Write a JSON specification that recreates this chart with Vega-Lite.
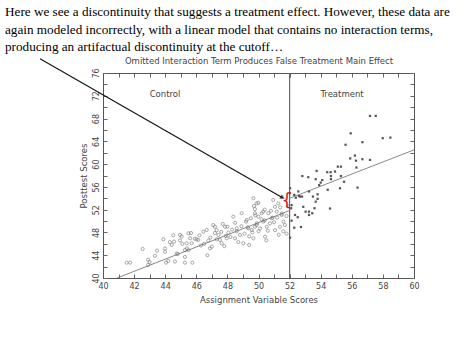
{
  "$schema": "https://vega.github.io/schema/vega-lite/v6.json",
  "autosize": {"type": "none"},
  "width": 311,
  "height": 205,
  "padding": {"left": 103, "top": 73, "right": 60, "bottom": 77},
  "background": "white",
  "title": {
    "text": [
      "Here we see a discontinuity that suggests a treatment effect. However, these data are",
      "again modeled incorrectly, with a linear model that contains no interaction terms,",
      "producing an artifactual discontinuity at the cutoff…"
    ],
    "anchor": "start",
    "frame": "group",
    "dx": -98,
    "font": "Liberation Serif",
    "fontSize": 13.2,
    "fontWeight": "normal",
    "color": "black",
    "lineHeight": 17.5,
    "offset": 2
  },
  "config": {
    "view": {"stroke": null},
    "axis": {
      "grid": false,
      "domainColor": "#555",
      "tickColor": "#666",
      "labelColor": "#444",
      "titleColor": "#444",
      "labelFont": "DejaVu Sans",
      "titleFont": "DejaVu Sans",
      "labelFontSize": 8,
      "titleFontSize": 8.5,
      "titleFontWeight": "normal"
    }
  },
  "datasets": {
    "cut": [{"x": 52, "y": 40, "y2": 76}],
    "pts": [
      {"x": 41.52, "y": 42.7, "g": "Control"}, {"x": 41.74, "y": 42.7, "g": "Control"}, {"x": 42.55, "y": 45.1, "g": "Control"}, {"x": 42.9, "y": 43.2, "g": "Control"}, {"x": 43.0, "y": 42.8, "g": "Control"}, {"x": 42.9, "y": 42.3, "g": "Control"}, {"x": 43.34, "y": 43.9, "g": "Control"}, {"x": 43.47, "y": 44.8, "g": "Control"}, {"x": 43.88, "y": 46.8, "g": "Control"}, {"x": 43.99, "y": 45.2, "g": "Control"}, {"x": 43.99, "y": 44.6, "g": "Control"}, {"x": 44.05, "y": 42.7, "g": "Control"}, {"x": 44.2, "y": 43.0, "g": "Control"}, {"x": 44.3, "y": 46.3, "g": "Control"}, {"x": 44.42, "y": 45.8, "g": "Control"}, {"x": 44.52, "y": 47.5, "g": "Control"}, {"x": 44.57, "y": 46.4, "g": "Control"}, {"x": 44.63, "y": 42.9, "g": "Control"}, {"x": 44.74, "y": 44.3, "g": "Control"}, {"x": 44.8, "y": 44.2, "g": "Control"}, {"x": 44.95, "y": 47.56, "g": "Control"}, {"x": 44.95, "y": 46.6, "g": "Control"}, {"x": 45.06, "y": 47.3, "g": "Control"}, {"x": 45.1, "y": 46.0, "g": "Control"}, {"x": 45.27, "y": 44.9, "g": "Control"}, {"x": 45.27, "y": 43.7, "g": "Control"}, {"x": 45.27, "y": 42.7, "g": "Control"}, {"x": 45.38, "y": 46.1, "g": "Control"}, {"x": 45.4, "y": 45.2, "g": "Control"}, {"x": 45.5, "y": 44.9, "g": "Control"}, {"x": 45.49, "y": 47.85, "g": "Control"}, {"x": 45.6, "y": 46.97, "g": "Control"}, {"x": 45.66, "y": 47.9, "g": "Control"}, {"x": 45.7, "y": 46.1, "g": "Control"}, {"x": 45.75, "y": 42.7, "g": "Control"}, {"x": 45.9, "y": 46.9, "g": "Control"}, {"x": 46.02, "y": 46.8, "g": "Control"}, {"x": 46.13, "y": 46.68, "g": "Control"}, {"x": 46.2, "y": 47.5, "g": "Control"}, {"x": 46.3, "y": 45.7, "g": "Control"}, {"x": 46.45, "y": 48.14, "g": "Control"}, {"x": 46.5, "y": 46.0, "g": "Control"}, {"x": 46.67, "y": 48.43, "g": "Control"}, {"x": 46.71, "y": 44.0, "g": "Control"}, {"x": 46.77, "y": 46.56, "g": "Control"}, {"x": 46.88, "y": 45.2, "g": "Control"}, {"x": 46.9, "y": 47.1, "g": "Control"}, {"x": 47.0, "y": 45.5, "g": "Control"}, {"x": 47.09, "y": 49.3, "g": "Control"}, {"x": 47.2, "y": 49.0, "g": "Control"}, {"x": 47.2, "y": 47.9, "g": "Control"}, {"x": 47.3, "y": 46.8, "g": "Control"}, {"x": 47.31, "y": 48.4, "g": "Control"}, {"x": 47.42, "y": 47.56, "g": "Control"}, {"x": 47.52, "y": 46.68, "g": "Control"}, {"x": 47.6, "y": 48.1, "g": "Control"}, {"x": 47.63, "y": 46.1, "g": "Control"}, {"x": 47.7, "y": 49.5, "g": "Control"}, {"x": 47.8, "y": 45.6, "g": "Control"}, {"x": 47.85, "y": 49.0, "g": "Control"}, {"x": 47.9, "y": 47.4, "g": "Control"}, {"x": 47.96, "y": 46.97, "g": "Control"}, {"x": 48.0, "y": 49.0, "g": "Control"}, {"x": 48.06, "y": 47.96, "g": "Control"}, {"x": 48.2, "y": 47.2, "g": "Control"}, {"x": 48.3, "y": 48.5, "g": "Control"}, {"x": 48.38, "y": 50.77, "g": "Control"}, {"x": 48.49, "y": 46.97, "g": "Control"}, {"x": 48.5, "y": 49.7, "g": "Control"}, {"x": 48.6, "y": 48.72, "g": "Control"}, {"x": 48.6, "y": 48.2, "g": "Control"}, {"x": 48.7, "y": 46.3, "g": "Control"}, {"x": 48.81, "y": 47.56, "g": "Control"}, {"x": 48.9, "y": 49.1, "g": "Control"}, {"x": 48.92, "y": 51.37, "g": "Control"}, {"x": 49.02, "y": 46.1, "g": "Control"}, {"x": 49.1, "y": 47.8, "g": "Control"}, {"x": 49.2, "y": 49.9, "g": "Control"}, {"x": 49.24, "y": 50.2, "g": "Control"}, {"x": 49.3, "y": 48.9, "g": "Control"}, {"x": 49.34, "y": 48.72, "g": "Control"}, {"x": 49.4, "y": 47.3, "g": "Control"}, {"x": 49.4, "y": 45.8, "g": "Control"}, {"x": 49.5, "y": 50.5, "g": "Control"}, {"x": 49.56, "y": 48.43, "g": "Control"}, {"x": 49.6, "y": 48.0, "g": "Control"}, {"x": 49.67, "y": 54.0, "g": "Control"}, {"x": 49.67, "y": 46.97, "g": "Control"}, {"x": 49.71, "y": 52.65, "g": "Control"}, {"x": 49.77, "y": 51.37, "g": "Control"}, {"x": 49.77, "y": 52.1, "g": "Control"}, {"x": 49.77, "y": 49.0, "g": "Control"}, {"x": 49.8, "y": 51.0, "g": "Control"}, {"x": 49.88, "y": 53.1, "g": "Control"}, {"x": 49.88, "y": 49.3, "g": "Control"}, {"x": 49.9, "y": 49.6, "g": "Control"}, {"x": 49.99, "y": 53.2, "g": "Control"}, {"x": 49.99, "y": 50.77, "g": "Control"}, {"x": 50.0, "y": 48.2, "g": "Control"}, {"x": 50.1, "y": 48.7, "g": "Control"}, {"x": 50.2, "y": 51.37, "g": "Control"}, {"x": 50.2, "y": 50.3, "g": "Control"}, {"x": 50.3, "y": 51.65, "g": "Control"}, {"x": 50.31, "y": 49.9, "g": "Control"}, {"x": 50.4, "y": 50.1, "g": "Control"}, {"x": 50.4, "y": 52.0, "g": "Control"}, {"x": 50.42, "y": 47.26, "g": "Control"}, {"x": 50.5, "y": 46.6, "g": "Control"}, {"x": 50.53, "y": 49.0, "g": "Control"}, {"x": 50.6, "y": 48.3, "g": "Control"}, {"x": 50.63, "y": 51.37, "g": "Control"}, {"x": 50.74, "y": 49.6, "g": "Control"}, {"x": 50.8, "y": 51.8, "g": "Control"}, {"x": 50.85, "y": 50.5, "g": "Control"}, {"x": 50.9, "y": 50.6, "g": "Control"}, {"x": 50.95, "y": 53.7, "g": "Control"}, {"x": 51.0, "y": 49.8, "g": "Control"}, {"x": 51.06, "y": 52.5, "g": "Control"}, {"x": 51.06, "y": 48.4, "g": "Control"}, {"x": 51.17, "y": 51.65, "g": "Control"}, {"x": 51.2, "y": 50.6, "g": "Control"}, {"x": 51.27, "y": 53.1, "g": "Control"}, {"x": 51.3, "y": 47.6, "g": "Control"}, {"x": 51.38, "y": 49.0, "g": "Control"}, {"x": 51.4, "y": 52.4, "g": "Control"}, {"x": 51.49, "y": 51.07, "g": "Control"}, {"x": 51.5, "y": 51.3, "g": "Control"}, {"x": 51.6, "y": 49.9, "g": "Control"}, {"x": 51.6, "y": 48.2, "g": "Control"}, {"x": 51.7, "y": 49.3, "g": "Control"}, {"x": 51.8, "y": 50.9, "g": "Control"}, {"x": 51.8, "y": 47.8, "g": "Control"}, {"x": 51.9, "y": 52.6, "g": "Control"},
      {"x": 57.17, "y": 68.47, "g": "Treatment"}, {"x": 57.54, "y": 68.47, "g": "Treatment"}, {"x": 55.93, "y": 65.4, "g": "Treatment"}, {"x": 57.99, "y": 64.55, "g": "Treatment"}, {"x": 58.48, "y": 64.66, "g": "Treatment"}, {"x": 56.68, "y": 63.85, "g": "Treatment"}, {"x": 55.6, "y": 63.4, "g": "Treatment"}, {"x": 56.2, "y": 61.5, "g": "Treatment"}, {"x": 55.9, "y": 61.0, "g": "Treatment"}, {"x": 56.27, "y": 60.6, "g": "Treatment"}, {"x": 56.68, "y": 60.86, "g": "Treatment"}, {"x": 57.17, "y": 60.74, "g": "Treatment"}, {"x": 56.3, "y": 59.4, "g": "Treatment"}, {"x": 55.1, "y": 59.55, "g": "Treatment"}, {"x": 55.3, "y": 59.55, "g": "Treatment"}, {"x": 54.42, "y": 58.58, "g": "Treatment"}, {"x": 54.64, "y": 58.58, "g": "Treatment"}, {"x": 54.92, "y": 58.7, "g": "Treatment"}, {"x": 53.74, "y": 58.8, "g": "Treatment"}, {"x": 52.82, "y": 57.9, "g": "Treatment"}, {"x": 53.2, "y": 57.7, "g": "Treatment"}, {"x": 53.68, "y": 57.35, "g": "Treatment"}, {"x": 54.66, "y": 57.9, "g": "Treatment"}, {"x": 54.66, "y": 57.35, "g": "Treatment"}, {"x": 55.3, "y": 57.9, "g": "Treatment"}, {"x": 55.5, "y": 56.9, "g": "Treatment"}, {"x": 54.1, "y": 57.2, "g": "Treatment"}, {"x": 54.0, "y": 56.75, "g": "Treatment"}, {"x": 53.9, "y": 56.3, "g": "Treatment"}, {"x": 54.45, "y": 55.5, "g": "Treatment"}, {"x": 55.24, "y": 55.76, "g": "Treatment"}, {"x": 56.37, "y": 55.87, "g": "Treatment"}, {"x": 52.03, "y": 55.76, "g": "Treatment"}, {"x": 52.03, "y": 54.9, "g": "Treatment"}, {"x": 52.56, "y": 55.2, "g": "Treatment"}, {"x": 52.3, "y": 54.6, "g": "Treatment"}, {"x": 52.67, "y": 54.3, "g": "Treatment"}, {"x": 52.8, "y": 54.3, "g": "Treatment"}, {"x": 53.25, "y": 55.2, "g": "Treatment"}, {"x": 53.5, "y": 54.3, "g": "Treatment"}, {"x": 53.8, "y": 54.7, "g": "Treatment"}, {"x": 53.8, "y": 53.9, "g": "Treatment"}, {"x": 53.68, "y": 53.4, "g": "Treatment"}, {"x": 52.13, "y": 52.8, "g": "Treatment"}, {"x": 52.1, "y": 52.25, "g": "Treatment"}, {"x": 52.88, "y": 52.5, "g": "Treatment"}, {"x": 53.6, "y": 52.25, "g": "Treatment"}, {"x": 54.6, "y": 52.2, "g": "Treatment"}, {"x": 53.03, "y": 51.65, "g": "Treatment"}, {"x": 53.25, "y": 51.65, "g": "Treatment"}, {"x": 53.25, "y": 51.07, "g": "Treatment"}, {"x": 53.46, "y": 51.37, "g": "Treatment"}, {"x": 52.35, "y": 51.07, "g": "Treatment"}, {"x": 52.52, "y": 50.67, "g": "Treatment"}, {"x": 52.13, "y": 50.07, "g": "Treatment"}, {"x": 52.3, "y": 48.84, "g": "Treatment"}, {"x": 52.73, "y": 48.96, "g": "Treatment"}, {"x": 52.03, "y": 47.08, "g": "Treatment"}, {"x": 52.4, "y": 54.1, "g": "Treatment"}, {"x": 52.6, "y": 54.4, "g": "Treatment"}
    ],
    "fit": [
      {"x": 40.9, "y": 40, "g": "Control"}, {"x": 52, "y": 51.85, "g": "Control"},
      {"x": 52, "y": 54.0, "g": "Treatment"}, {"x": 60, "y": 62.5, "g": "Treatment"}
    ],
    "arrow": [
      {"x": 35.95, "y": 78.5, "pos": "start"}, {"x": 51.55, "y": 54.1, "pos": "end"}
    ],
    "labels": [
      {"x": 43.99, "y": 72.3, "t": "Control"}, {"x": 55.37, "y": 72.3, "t": "Treatment"}
    ],
    "brace": [{"x": 51.83, "y": 53.45, "t": "{"}]
  },
  "layer": [
    {
      "data": {"name": "cut"},
      "mark": {"type": "rule", "color": "#666", "strokeWidth": 1},
      "encoding": {
        "x": {
          "field": "x", "type": "quantitative",
          "scale": {"domain": [40, 60], "nice": false, "zero": false},
          "axis": {
            "orient": "bottom",
            "values": [40, 41, 42, 43, 44, 45, 46, 47, 48, 49, 50, 51, 52, 53, 54, 55, 56, 57, 58, 59, 60],
            "labelExpr": "datum.value % 2 == 0 ? datum.label : ''",
            "tickSize": -4,
            "labelPadding": 8,
            "labelFlush": false,
            "title": "Assignment Variable Scores",
            "titlePadding": 5
          }
        },
        "y": {
          "field": "y", "type": "quantitative",
          "scale": {"domain": [40, 76], "nice": false, "zero": false},
          "axis": {
            "orient": "left",
            "values": [40, 42, 44, 46, 48, 50, 52, 54, 56, 58, 60, 62, 64, 66, 68, 70, 72, 74, 76],
            "labelExpr": "datum.value % 4 == 0 ? datum.label : ''",
            "labelAngle": -90,
            "labelAlign": "center",
            "labelBaseline": "bottom",
            "tickSize": -4,
            "labelPadding": 7,
            "labelFlush": false,
            "title": "Posttest Scores",
            "titlePadding": 4
          }
        },
        "y2": {"field": "y2"}
      }
    },
    {
      "data": {"name": "cut"},
      "mark": {"type": "rule", "color": "#666", "strokeWidth": 1},
      "encoding": {
        "x": {
          "field": "x", "type": "quantitative",
          "axis": {
            "orient": "top",
            "values": [40, 41, 42, 43, 44, 45, 46, 47, 48, 49, 50, 51, 52, 53, 54, 55, 56, 57, 58, 59, 60],
            "labels": false,
            "tickSize": -4,
            "title": "Omitted Interaction Term Produces False Treatment Main Effect",
            "titlePadding": 7
          }
        },
        "y": {
          "field": "y", "type": "quantitative",
          "axis": {
            "orient": "right",
            "values": [40, 42, 44, 46, 48, 50, 52, 54, 56, 58, 60, 62, 64, 66, 68, 70, 72, 74, 76],
            "labels": false,
            "tickSize": -4,
            "title": null
          }
        },
        "y2": {"field": "y2"}
      }
    },
    {
      "data": {"name": "fit"},
      "mark": {"type": "line", "color": "#888", "strokeWidth": 1},
      "encoding": {
        "x": {"field": "x", "type": "quantitative", "axis": null},
        "y": {"field": "y", "type": "quantitative", "axis": null},
        "detail": {"field": "g"}
      }
    },
    {
      "data": {"name": "pts"},
      "transform": [{"filter": "datum.g == 'Control'"}],
      "mark": {"type": "point", "shape": "circle", "size": 10, "filled": false, "color": "#666", "strokeWidth": 0.8},
      "encoding": {
        "x": {"field": "x", "type": "quantitative", "axis": null},
        "y": {"field": "y", "type": "quantitative", "axis": null}
      }
    },
    {
      "data": {"name": "pts"},
      "transform": [{"filter": "datum.g == 'Treatment'"}],
      "mark": {"type": "point", "shape": "square", "size": 5, "filled": true, "color": "#555", "opacity": 1},
      "encoding": {
        "x": {"field": "x", "type": "quantitative", "axis": null},
        "y": {"field": "y", "type": "quantitative", "axis": null}
      }
    },
    {
      "data": {"name": "arrow"},
      "mark": {"type": "line", "color": "#111", "strokeWidth": 1.1, "clip": false},
      "encoding": {
        "x": {"field": "x", "type": "quantitative", "axis": null},
        "y": {"field": "y", "type": "quantitative", "axis": null}
      }
    },
    {
      "data": {"name": "arrow"},
      "transform": [{"filter": "datum.pos == 'end'"}],
      "mark": {"type": "point", "shape": "triangle-right", "size": 28, "filled": true, "color": "#111", "angle": 30},
      "encoding": {
        "x": {"field": "x", "type": "quantitative", "axis": null},
        "y": {"field": "y", "type": "quantitative", "axis": null}
      }
    },
    {
      "data": {"name": "labels"},
      "mark": {"type": "text", "font": "DejaVu Sans", "fontSize": 8.5, "color": "#444"},
      "encoding": {
        "x": {"field": "x", "type": "quantitative", "axis": null},
        "y": {"field": "y", "type": "quantitative", "axis": null},
        "text": {"field": "t"}
      }
    },
    {
      "data": {"name": "brace"},
      "mark": {"type": "text", "font": "DejaVu Sans", "fontSize": 17, "color": "#d42020"},
      "encoding": {
        "x": {"field": "x", "type": "quantitative", "axis": null},
        "y": {"field": "y", "type": "quantitative", "axis": null},
        "text": {"field": "t"}
      }
    }
  ],
  "resolve": {"axis": {"x": "independent", "y": "independent"}}
}
